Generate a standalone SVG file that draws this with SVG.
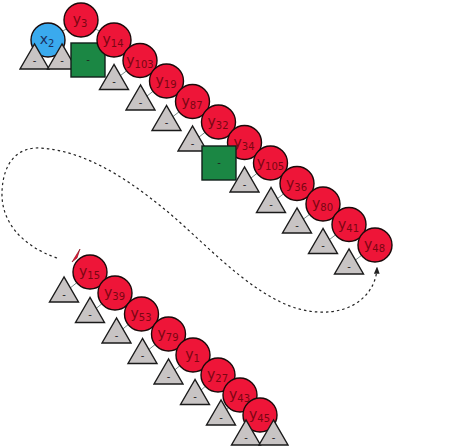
<svg xmlns="http://www.w3.org/2000/svg" width="474" height="448" viewBox="0 0 474 448">
<defs>
<style>
.c{fill:#ee1538;stroke:#1a0a0a;stroke-width:1.4}
.b{fill:#3aaaee;stroke:#1a0a0a;stroke-width:1.4}
.t{fill:#c8c4c4;stroke:#1a1a1a;stroke-width:1.4}
.s{fill:#1b8744;stroke:#10201a;stroke-width:1.4}
.l{font-family:"DejaVu Sans",sans-serif;font-size:14px;fill:#7a0612;text-anchor:middle}
.lb{font-family:"DejaVu Sans",sans-serif;font-size:14px;fill:#1a3060;text-anchor:middle}
.m{font-family:"DejaVu Sans",sans-serif;font-size:10px;fill:#222;text-anchor:middle}
.e{stroke:#7a8a88;stroke-width:1;fill:none}
.d{stroke:#222;stroke-width:1.2;fill:none;stroke-dasharray:2.5,3}
</style>
<marker id="ah" viewBox="0 0 10 10" refX="8" refY="5" markerWidth="6" markerHeight="6" orient="auto-start-reverse">
<path d="M0,1 L10,5 L0,9 z" fill="#222"/>
</marker>
<polygon id="tri" points="0,0 -14.5,25 14.5,25" class="t"/>
</defs>
<g id="connectors">
<path class="e" d="M81,20 L48,40 M81,20 L114,40 M114,40 L88,60 M114,40 L140,60.5 L166.5,81 L192.5,101.5 L218.5,122 L244.5,142.5 L270.5,163 L297,183.5 L323,204 L349,224.5 L375,245"/>
<path class="e" d="M140,60.5 L114,80.5 M166.5,81 L140.5,101 M192.5,101.5 L166.5,121.5 M218.5,122 L192.5,142 M244.5,142.5 L219,163 M270.5,163 L244.5,183 M297,183.5 L271,203.5 M323,204 L297,224 M349,224.5 L323,244.5 M375,245 L349,265"/>
<path class="e" d="M90,272 L115,293 L141.5,314 L168.5,334 L193,355 L218,375 L240,395 L260,415"/>
<path class="e" d="M90,272 L64,293 M115,293 L90,313.5 M141.5,314 L116.5,334 M168.5,334 L142.5,354.5 M193,355 L168.5,375 M218,375 L195,395.5 M240,395 L221,416 M260,415 L246,436 M260,415 L273.5,436"/>
<path class="d" marker-end="url(#ah)" d="M57,258 C22,246 1,222 2,192 C3,162 18,147 40,148 C90,151 135,185 168,212 C215,252 265,310 318,312 C355,314 376,292 377,268"/>
</g>
<g id="x2"><circle class="b" cx="48" cy="40" r="17"/><text class="lb" x="47" y="44">x<tspan font-size="10" dy="3">2</tspan></text></g>
<g id="x2-t1"><use href="#tri" x="34.5" y="44"/><text class="m" x="34.5" y="64">-</text></g>
<g id="x2-t2"><use href="#tri" x="62" y="44"/><text class="m" x="62" y="64">-</text></g>
<g id="y3"><circle class="c" cx="81" cy="20" r="17"/><text class="l" x="80" y="24">y<tspan font-size="10" dy="3">3</tspan></text></g>
<g id="sq1"><rect class="s" x="71" y="43" width="34" height="34"/><text class="m" x="88" y="63">-</text></g>
<g id="y14"><circle class="c" cx="114" cy="40" r="17"/><text class="l" x="113" y="44">y<tspan font-size="10" dy="3">14</tspan></text></g>
<g id="y103"><circle class="c" cx="140" cy="60.5" r="17"/><text class="l" x="140" y="64.5">y<tspan font-size="10" dy="3">103</tspan></text></g>
<g id="t103"><use href="#tri" x="114" y="64.5"/><text class="m" x="114" y="85">-</text></g>
<g id="y19"><circle class="c" cx="166.5" cy="81" r="17"/><text class="l" x="166" y="85">y<tspan font-size="10" dy="3">19</tspan></text></g>
<g id="t19"><use href="#tri" x="140.5" y="85"/><text class="m" x="140.5" y="105.5">-</text></g>
<g id="y87"><circle class="c" cx="192.5" cy="101.5" r="17"/><text class="l" x="192" y="105.5">y<tspan font-size="10" dy="3">87</tspan></text></g>
<g id="t87"><use href="#tri" x="166.5" y="105.5"/><text class="m" x="166.5" y="126">-</text></g>
<g id="y32"><circle class="c" cx="218.5" cy="122" r="17"/><text class="l" x="218" y="126">y<tspan font-size="10" dy="3">32</tspan></text></g>
<g id="t32"><use href="#tri" x="192.5" y="126"/><text class="m" x="192.5" y="146.5">-</text></g>
<g id="y34"><circle class="c" cx="244.5" cy="142.5" r="17"/><text class="l" x="244" y="146.5">y<tspan font-size="10" dy="3">34</tspan></text></g>
<g id="sq2"><rect class="s" x="202" y="146" width="34" height="34"/><text class="m" x="219" y="166">-</text></g>
<g id="y105"><circle class="c" cx="270.5" cy="163" r="17"/><text class="l" x="270.5" y="167">y<tspan font-size="10" dy="3">105</tspan></text></g>
<g id="t105"><use href="#tri" x="244.5" y="167"/><text class="m" x="244.5" y="187.5">-</text></g>
<g id="y36"><circle class="c" cx="297" cy="183.5" r="17"/><text class="l" x="296.5" y="187.5">y<tspan font-size="10" dy="3">36</tspan></text></g>
<g id="t36"><use href="#tri" x="271" y="187.5"/><text class="m" x="271" y="208">-</text></g>
<g id="y80"><circle class="c" cx="323" cy="204" r="17"/><text class="l" x="322.5" y="208">y<tspan font-size="10" dy="3">80</tspan></text></g>
<g id="t80"><use href="#tri" x="297" y="208"/><text class="m" x="297" y="228.5">-</text></g>
<g id="y41"><circle class="c" cx="349" cy="224.5" r="17"/><text class="l" x="348.5" y="228.5">y<tspan font-size="10" dy="3">41</tspan></text></g>
<g id="t41"><use href="#tri" x="323" y="228.5"/><text class="m" x="323" y="249">-</text></g>
<g id="y48"><circle class="c" cx="375" cy="245" r="17"/><text class="l" x="374.5" y="249">y<tspan font-size="10" dy="3">48</tspan></text></g>
<g id="t48"><use href="#tri" x="349" y="249"/><text class="m" x="349" y="269.5">-</text></g>
<g id="y15"><path d="M72,262 L80,249 L77,258 z" fill="#ee1538" stroke="#7a0612" stroke-width="0.6"/><circle class="c" cx="90" cy="272" r="17"/><text class="l" x="89.5" y="276">y<tspan font-size="10" dy="3">15</tspan></text></g>
<g id="t15"><use href="#tri" x="64" y="277"/><text class="m" x="64" y="297.5">-</text></g>
<g id="y39"><circle class="c" cx="115" cy="293" r="17"/><text class="l" x="114.5" y="297">y<tspan font-size="10" dy="3">39</tspan></text></g>
<g id="t39"><use href="#tri" x="90" y="297.5"/><text class="m" x="90" y="318">-</text></g>
<g id="y53"><circle class="c" cx="141.5" cy="314" r="17"/><text class="l" x="141" y="318">y<tspan font-size="10" dy="3">53</tspan></text></g>
<g id="t53"><use href="#tri" x="116.5" y="318"/><text class="m" x="116.5" y="338.5">-</text></g>
<g id="y79"><circle class="c" cx="168.5" cy="334" r="17"/><text class="l" x="168" y="338">y<tspan font-size="10" dy="3">79</tspan></text></g>
<g id="t79"><use href="#tri" x="142.5" y="338.5"/><text class="m" x="142.5" y="359">-</text></g>
<g id="y1"><circle class="c" cx="193" cy="355" r="17"/><text class="l" x="192.5" y="359">y<tspan font-size="10" dy="3">1</tspan></text></g>
<g id="t1"><use href="#tri" x="168.5" y="359"/><text class="m" x="168.5" y="379.5">-</text></g>
<g id="y27"><circle class="c" cx="218" cy="375" r="17"/><text class="l" x="217.5" y="379">y<tspan font-size="10" dy="3">27</tspan></text></g>
<g id="t27"><use href="#tri" x="195" y="379.5"/><text class="m" x="195" y="400">-</text></g>
<g id="y43"><circle class="c" cx="240" cy="395" r="17"/><text class="l" x="239.5" y="399">y<tspan font-size="10" dy="3">43</tspan></text></g>
<g id="t43"><use href="#tri" x="221" y="400"/><text class="m" x="221" y="420.5">-</text></g>
<g id="y45"><circle class="c" cx="260" cy="415" r="17"/><text class="l" x="259.5" y="419">y<tspan font-size="10" dy="3">45</tspan></text></g>
<g id="t45a"><use href="#tri" x="246" y="420"/><text class="m" x="246" y="440.5">-</text></g>
<g id="t45b"><use href="#tri" x="273.5" y="420"/><text class="m" x="273.5" y="440.5">-</text></g>
</svg>
